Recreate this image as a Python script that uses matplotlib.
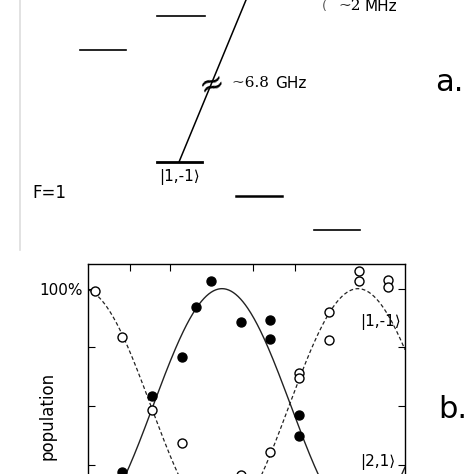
import numpy as np
import matplotlib
matplotlib.use("Agg")
import matplotlib.pyplot as plt

# data (x in arbitrary time units, population in %)
filled_x = [34, 64, 94, 108, 123, 153, 182, 182, 211, 211]
filled_y = [21.8, 54.5, 70.9, 92.3, 103.2, 85.9, 86.8, 78.6, 46.4, 37.3]
open_x = [7, 34, 64, 94, 153, 182, 211, 211, 241, 241, 271, 271, 300, 300]
open_y = [99.1, 79.5, 48.2, 34.1, 20.5, 30.5, 64.1, 61.8, 90.0, 78.2, 107.7, 103.2, 103.6, 100.5]
fit_peak_x = 134      # peak of |2,1> fit
fit_trough_x = 132    # trough of |1,-1> fit
fit_half_period = 138
ytick_vals = [25, 50, 75, 100]
ytick_labels = ["", "", "", "100%"]

W = H = 474
fig = plt.figure(figsize=(4.74, 4.74), dpi=100)

def fr(x0, y0, x1, y1):
    return [x0 / W, 1 - y1 / H, (x1 - x0) / W, (y1 - y0) / H]

# data panel
ax = fig.add_axes(fr(88, 264, 405, 540))
ax.set_xlim(0, 317)
ax.set_ylim(-7, 110.5)
xx = np.linspace(0, 317, 400)
T = 2 * fit_half_period
sol = 50 + 50 * np.cos(2 * np.pi * (xx - fit_peak_x) / T)
dash = 50 - 50 * np.cos(2 * np.pi * (xx - fit_trough_x) / T)
ax.plot(xx, sol, color="#222222", lw=1.0)
ax.plot(xx, dash, color="#222222", lw=0.9, ls=(0, (3, 2)))
ax.scatter(filled_x, filled_y, s=42, color="black", zorder=3)
ax.scatter(open_x, open_y, s=42, facecolor="white", edgecolor="black", lw=1.0, zorder=3)
ax.set_yticks(ytick_vals)
ax.set_yticklabels(ytick_labels, fontsize=11)
ax.set_xticks([42, 82, 165, 207])
ax.tick_params(axis="x", direction="in", top=True, bottom=False, labelbottom=False, length=5)
ax.tick_params(axis="y", direction="in", right=True, length=5)
for s in ax.spines.values():
    s.set_linewidth(1.0)
ax.set_ylabel("population", fontsize=12, labelpad=4)
ax.yaxis.set_label_coords(-0.1, 0.45)

# overlay in pixel coordinates
ov = fig.add_axes([0, 0, 1, 1], zorder=5)
ov.set_xlim(0, W); ov.set_ylim(H, 0); ov.axis("off")
ov.plot([20, 20], [0, 250], color="#dddddd", lw=1.2)
for (x0, x1, y, lw) in [(157, 205, 16, 1.2), (80, 126, 50, 1.2), (157, 202, 162, 2.0),
                        (236, 282, 196, 1.8), (314, 360, 230, 1.2)]:
    ov.plot([x0, x1], [y, y], color="black", lw=lw)
ov.plot([179, 246], [162, 0], color="black", lw=1.1)
ov.text(212, 85, "≈", fontsize=22, ha="center", va="center", rotation=20, family="DejaVu Serif")
ov.text(232, 83, "~6.8 ", fontsize=11, va="center", family="DejaVu Serif")
ov.text(275, 83, "GHz", fontsize=11, va="center")
ov.text(338, 6, "~2", fontsize=11, va="center", family="DejaVu Serif")
ov.text(365, 6, "MHz", fontsize=11, va="center")
ov.text(322, 6, "(", fontsize=9, va="center", color="#555555")
ov.text(435, 82, "a.", fontsize=22, va="center")
ov.text(159, 177, "|1,-1⟩", fontsize=11, va="center")
ov.text(32, 193, "F=1", fontsize=12, va="center")
ov.text(438, 410, "b.", fontsize=22, va="center")
ov.text(360, 322, "|1,-1⟩", fontsize=11, va="center")
ov.text(360, 462, "|2,1⟩", fontsize=11, va="center")

fig.savefig("out.png", dpi=100)
